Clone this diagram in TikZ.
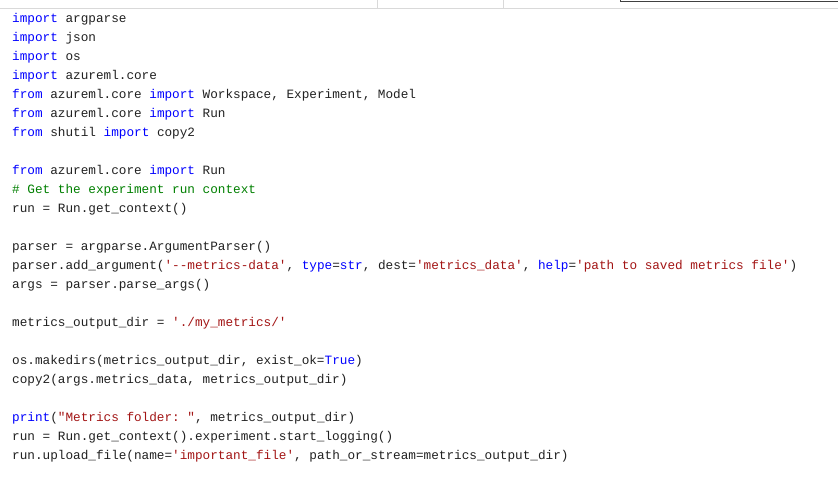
\documentclass[tikz,border=0pt]{standalone}
\usepackage{fontspec}
\setmonofont{Liberation Mono}
\definecolor{kwc}{RGB}{0,0,255}
\definecolor{stc}{RGB}{163,21,21}
\definecolor{cmc}{RGB}{0,128,0}
\definecolor{txc}{RGB}{33,33,33}
\newcommand{\kw}[1]{\textcolor{kwc}{#1}}
\newcommand{\st}[1]{\textcolor{stc}{#1}}
\newcommand{\cm}[1]{\textcolor{cmc}{#1}}
\tikzset{codeline/.style={anchor=base west,inner sep=0pt,font=\ttfamily\fontsize{12.7}{14}\selectfont,text=txc}}
\begin{document}
\begin{tikzpicture}[x=1pt,y=-1pt]
\useasboundingbox (0,0) rectangle (838,488);
\fill[white] (0,0) rectangle (838,488);
\draw[black!15] (0,8.5) -- (838,8.5);
\draw[black!15] (377,0) -- (377,8.5);
\draw[black!15] (503,0) -- (503,8.5);
\draw[black!75] (620.5,-2) -- (620.5,1.5) -- (840,1.5);
\foreach \i/\t in {
0/{\kw{import} argparse},
1/{\kw{import} json},
2/{\kw{import} os},
3/{\kw{import} azureml.core},
4/{\kw{from} azureml.core \kw{import} Workspace, Experiment, Model},
5/{\kw{from} azureml.core \kw{import} Run},
6/{\kw{from} shutil \kw{import} copy2},
8/{\kw{from} azureml.core \kw{import} Run},
9/{\cm{\# Get the experiment run context}},
10/{run = Run.get\_context()},
12/{parser = argparse.ArgumentParser()},
13/{parser.add\_argument(\st{'--metrics-data'}, \kw{type}=\kw{str}, dest=\st{'metrics\_data'}, \kw{help}=\st{'path to saved metrics file'})},
14/{args = parser.parse\_args()},
16/{metrics\_output\_dir = \st{'./my\_metrics/'}},
18/{os.makedirs(metrics\_output\_dir, exist\_ok=\kw{True})},
19/{copy2(args.metrics\_data, metrics\_output\_dir)},
21/{\kw{print}(\st{"Metrics folder: "}, metrics\_output\_dir)},
22/{run = Run.get\_context().experiment.start\_logging()},
23/{run.upload\_file(name=\st{'important\_file'}, path\_or\_stream=metrics\_output\_dir)}
}{
  \node[codeline] (l\i) at (12,{22+19*\i}) {\t};
}
\end{tikzpicture}
\end{document}
